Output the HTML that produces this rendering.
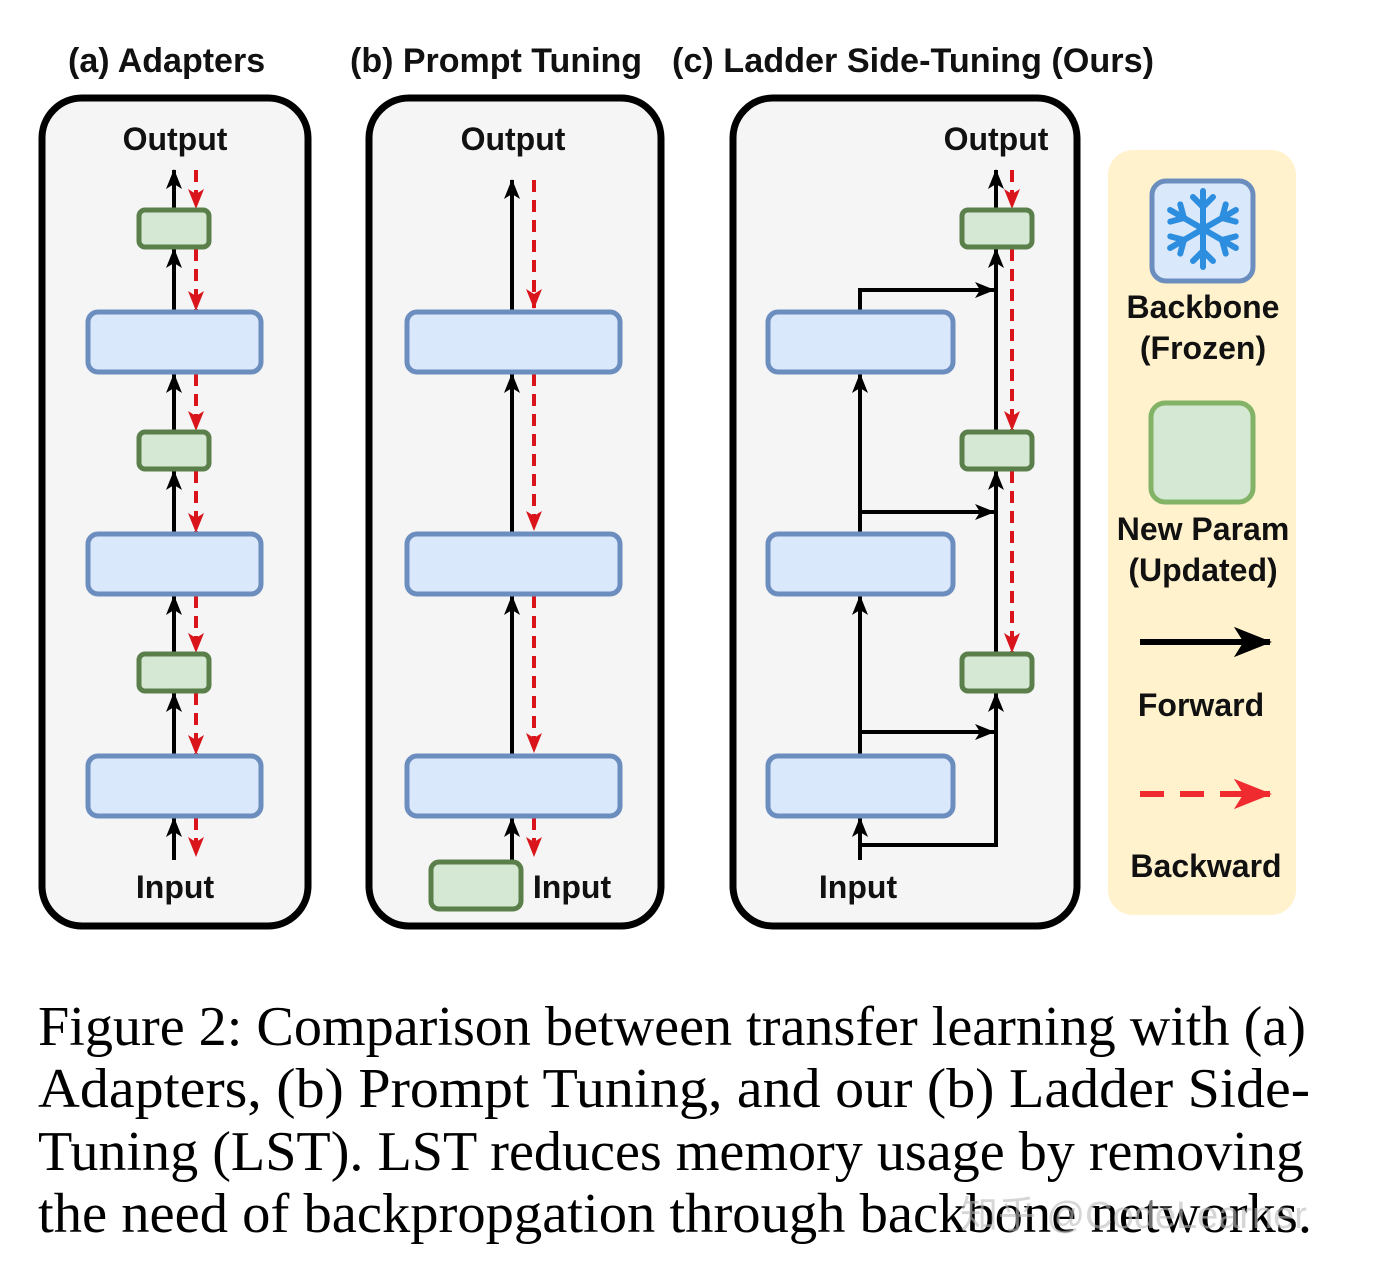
<!DOCTYPE html>
<html><head><meta charset="utf-8"><style>html,body{margin:0;padding:0;background:#fff}svg{display:block}</style></head>
<body>
<svg width="1376" height="1270" viewBox="0 0 1376 1270" xmlns="http://www.w3.org/2000/svg">
<defs>
<marker id="ab" viewBox="0 0 20 16" refX="19" refY="8" markerWidth="20" markerHeight="16" markerUnits="userSpaceOnUse" orient="auto"><path d="M0,0 L20,8 L0,16 L5,8 z" fill="#000"/></marker>
<marker id="ar" viewBox="0 0 20 16" refX="19" refY="8" markerWidth="20" markerHeight="16" markerUnits="userSpaceOnUse" orient="auto"><path d="M0,0 L20,8 L0,16 L5,8 z" fill="#d9141b"/></marker>
<marker id="ab2" viewBox="0 0 20 16" refX="19" refY="8" markerWidth="38" markerHeight="32" markerUnits="userSpaceOnUse" orient="auto"><path d="M0,0 L20,8 L0,16 L5,8 z" fill="#000"/></marker>
<marker id="ar2" viewBox="0 0 20 16" refX="19" refY="8" markerWidth="38" markerHeight="32" markerUnits="userSpaceOnUse" orient="auto"><path d="M0,0 L20,8 L0,16 L5,8 z" fill="#f02b30"/></marker>
</defs>
<g font-family="Liberation Sans, sans-serif" font-weight="bold" font-size="34" fill="#111">
<text x="68" y="72">(a) Adapters</text>
<text x="350" y="72">(b) Prompt Tuning</text>
<text x="672" y="72" textLength="482" lengthAdjust="spacingAndGlyphs">(c) Ladder Side-Tuning (Ours)</text>
</g>
<g fill="#f5f5f5" stroke="#000" stroke-width="7">
<rect x="42" y="98" width="266" height="828" rx="40"/>
<rect x="369" y="98" width="292" height="828" rx="40"/>
<rect x="733" y="98" width="344" height="828" rx="40"/>
</g>
<rect x="1108" y="150" width="188" height="765" rx="25" fill="#fff2cc"/>
<g stroke="#000" stroke-width="4" fill="none" marker-end="url(#ab)">
<line x1="174" y1="860" x2="174" y2="818"/>
<line x1="174" y1="756" x2="174" y2="693"/>
<line x1="174" y1="654" x2="174" y2="596"/>
<line x1="174" y1="534" x2="174" y2="471"/>
<line x1="174" y1="432" x2="174" y2="374"/>
<line x1="174" y1="312" x2="174" y2="249"/>
<line x1="174" y1="210" x2="174" y2="170"/>
<line x1="512" y1="860" x2="512" y2="818"/>
<line x1="512" y1="756" x2="512" y2="596"/>
<line x1="512" y1="534" x2="512" y2="374"/>
<line x1="512" y1="312" x2="512" y2="180"/>
<line x1="860" y1="860" x2="860" y2="818"/>
<line x1="860" y1="756" x2="860" y2="596"/>
<line x1="860" y1="534" x2="860" y2="374"/>
<polyline points="860,312 860,290 994,290"/>
<line x1="860" y1="512" x2="994" y2="512"/>
<line x1="860" y1="732" x2="994" y2="732"/>
<polyline points="860,845 996,845 996,693"/>
<line x1="996" y1="654" x2="996" y2="471"/>
<line x1="996" y1="432" x2="996" y2="249"/>
<line x1="996" y1="210" x2="996" y2="170"/>
</g>
<g stroke="#d9141b" stroke-width="4" fill="none" stroke-dasharray="12,8" marker-end="url(#ar)">
<line x1="196" y1="170" x2="196" y2="208"/>
<line x1="196" y1="249" x2="196" y2="310"/>
<line x1="196" y1="374" x2="196" y2="430"/>
<line x1="196" y1="471" x2="196" y2="532"/>
<line x1="196" y1="596" x2="196" y2="652"/>
<line x1="196" y1="693" x2="196" y2="754"/>
<line x1="196" y1="818" x2="196" y2="856"/>
<line x1="534" y1="180" x2="534" y2="308"/>
<line x1="534" y1="374" x2="534" y2="530"/>
<line x1="534" y1="596" x2="534" y2="752"/>
<line x1="534" y1="818" x2="534" y2="856"/>
<line x1="1012" y1="170" x2="1012" y2="208"/>
<line x1="1012" y1="249" x2="1012" y2="430"/>
<line x1="1012" y1="471" x2="1012" y2="652"/>
</g>
<g fill="#dae8fc" stroke="#6c8ebf" stroke-width="5">
<rect x="88" y="312" width="173" height="60" rx="10"/>
<rect x="88" y="534" width="173" height="60" rx="10"/>
<rect x="88" y="756" width="173" height="60" rx="10"/>
<rect x="407" y="312" width="213" height="60" rx="10"/>
<rect x="407" y="534" width="213" height="60" rx="10"/>
<rect x="407" y="756" width="213" height="60" rx="10"/>
<rect x="768" y="312" width="185" height="60" rx="10"/>
<rect x="768" y="534" width="185" height="60" rx="10"/>
<rect x="768" y="756" width="185" height="60" rx="10"/>
<rect x="1152" y="181" width="101" height="100" rx="14"/>
</g>
<g fill="#d5e8d4" stroke="#5b7f4a" stroke-width="5">
<rect x="139" y="210" width="70" height="37" rx="6"/>
<rect x="139" y="432" width="70" height="37" rx="6"/>
<rect x="139" y="654" width="70" height="37" rx="6"/>
<rect x="962" y="210" width="70" height="37" rx="6"/>
<rect x="962" y="432" width="70" height="37" rx="6"/>
<rect x="962" y="654" width="70" height="37" rx="6"/>
<rect x="431" y="862" width="90" height="47" rx="8"/>
<rect x="1151" y="403" width="102" height="99" rx="14" stroke="#82b366"/>
</g>
<g stroke="#2d8ee0" stroke-width="6" stroke-linecap="round" fill="none" transform="translate(1203,229)">
<g id="arm"><line x1="0" y1="0" x2="0" y2="-38"/><polyline points="-10,-32 0,-22 10,-32"/></g>
<use href="#arm" transform="rotate(60)"/>
<use href="#arm" transform="rotate(120)"/>
<use href="#arm" transform="rotate(180)"/>
<use href="#arm" transform="rotate(240)"/>
<use href="#arm" transform="rotate(300)"/>
</g>
<line x1="1140" y1="642" x2="1270" y2="642" stroke="#000" stroke-width="6" marker-end="url(#ab2)"/>
<line x1="1140" y1="794" x2="1270" y2="794" stroke="#f02b30" stroke-width="6" stroke-dasharray="24,16" marker-end="url(#ar2)"/>
<g font-family="Liberation Sans, sans-serif" font-weight="bold" font-size="32" fill="#111" text-anchor="middle">
<text x="175" y="150">Output</text>
<text x="513" y="150">Output</text>
<text x="996" y="150">Output</text>
<text x="175" y="898">Input</text>
<text x="572" y="898">Input</text>
<text x="858" y="898">Input</text>
<text x="1203" y="318">Backbone</text>
<text x="1203" y="359">(Frozen)</text>
<text x="1203" y="540">New Param</text>
<text x="1203" y="581">(Updated)</text>
<text x="1201" y="716">Forward</text>
<text x="1206" y="877">Backward</text>
</g>
<g font-family="Liberation Serif, serif" font-size="56" fill="#000">
<text x="38" y="1045" textLength="1268" lengthAdjust="spacingAndGlyphs">Figure 2: Comparison between transfer learning with (a)</text>
<text x="38" y="1107" textLength="1272" lengthAdjust="spacingAndGlyphs">Adapters, (b) Prompt Tuning, and our (b) Ladder Side-</text>
<text x="38" y="1170" textLength="1266" lengthAdjust="spacingAndGlyphs">Tuning (LST). LST reduces memory usage by removing</text>
<text x="38" y="1232" textLength="1274" lengthAdjust="spacingAndGlyphs">the need of backpropgation through backbone networks.</text>
</g>
<text x="960" y="1228" font-family="Liberation Sans, Noto Sans CJK SC, sans-serif" font-size="38" fill="#bbb" opacity="0.6">知乎 @CodeLearner</text>
</svg>
</body></html>
